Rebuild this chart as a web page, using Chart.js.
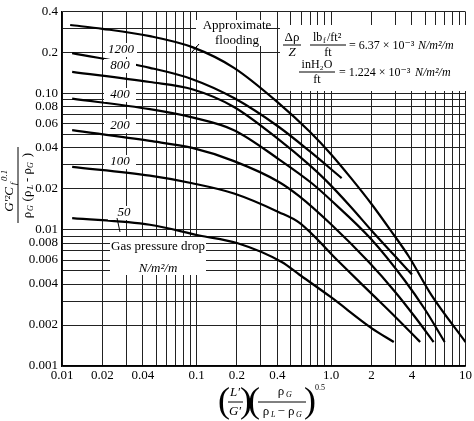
<!DOCTYPE html>
<html><head><meta charset="utf-8">
<script src="https://cdn.jsdelivr.net/npm/chart.js@4"></script>
<style>html,body{margin:0;padding:0;background:#fff}#w{width:474px;height:421px}</style>
</head><body><div id="w"><canvas id="c"></canvas></div>
<script>
const seriesNames = ['Flooding','1200','800','400','200','100','50'];
const floodX = [0.0115,0.02,0.045,0.093,0.19,0.41,0.69,1.0,1.41,2,2.8,3.78,5.6,10];
const floodY = [0.32,0.30,0.265,0.22,0.155,0.085,0.053,0.036,0.024,0.0155,0.0098,0.0064,0.0033,0.0015];
const s1200X = [0.0119,0.045,0.093,0.19,0.41,0.69,1.2];
const s1200Y = [0.199,0.155,0.128,0.093,0.057,0.038,0.024];
const s800X = [0.0119,0.045,0.093,0.19,0.41,0.69,0.92,1.4,2,3,4];
const s800Y = [0.145,0.122,0.108,0.08,0.046,0.030,0.023,0.0148,0.0099,0.0064,0.0047];
const s400X = [0.0119,0.045,0.093,0.19,0.41,0.72,1,2,3.5,5,7];
const s400Y = [0.092,0.077,0.067,0.054,0.033,0.022,0.0165,0.0085,0.0043,0.0026,0.0015];
const s200X = [0.0119,0.045,0.093,0.19,0.41,0.58,1,1.91,3,4.2,5.8];
const s200Y = [0.054,0.045,0.04,0.032,0.0225,0.0177,0.011,0.0058,0.0035,0.0023,0.0015];
const s100X = [0.0119,0.045,0.093,0.19,0.41,0.58,1.15,2,3,4.6];
const s100Y = [0.029,0.025,0.022,0.0185,0.0135,0.0113,0.0058,0.0034,0.0023,0.0015];
const s50X = [0.0119,0.045,0.105,0.2,0.43,0.58,1,2,2.93];
const s50Y = [0.0122,0.0109,0.0091,0.0080,0.0058,0.0047,0.0032,0.0019,0.0015];
const xTickLabels = ['0.01','0.02','0.04','0.1','0.2','0.4','1.0','2','4','10'];
const yTickLabels = ['0.001','0.002','0.004','0.006','0.008','0.01','0.02','0.04','0.06','0.08','0.10','0.2','0.4'];

const allX=[floodX,s1200X,s800X,s400X,s200X,s100X,s50X];
const allY=[floodY,s1200Y,s800Y,s400Y,s200Y,s100Y,s50Y];
function grid(min,max){const t=[];for(let e=-3;e<=1;e++)for(let m=1;m<=9;m++){const v=+(m*Math.pow(10,e)).toPrecision(3);if(v>=min*0.999&&v<=max*1.001)t.push(v);}return t;}
function lab(list,v){for(const s of list){if(Math.abs(parseFloat(s)-v)/v<1e-6)return s;}return '';}
const SERIF="'Liberation Serif', 'DejaVu Serif', serif";

const datasets=seriesNames.map((n,i)=>({label:n,data:allX[i].map((x,j)=>({x,y:allY[i][j]})),borderColor:'#000',borderWidth:2.2,pointRadius:0,fill:false,cubicInterpolationMode:'monotone'}));

function box(ctx,x,y,w,h){ctx.fillStyle='#fff';ctx.fillRect(x,y,w,h);}
function txt(ctx,s,x,y,font,align){ctx.font=font;ctx.textAlign=align||'center';ctx.textBaseline='middle';ctx.fillStyle='#000';ctx.fillText(s,x,y);}

const deco={id:'deco',
beforeDatasetsDraw(ch){const c=ch.ctx;c.save();
 box(c,280,25,186,66);
 box(c,110,237,96,38);
 box(c,196,20,70,26);
 c.restore();},
afterDatasetsDraw(ch){const c=ch.ctx;c.save();
 const f13=`13px ${SERIF}`, fi=`italic 13px ${SERIF}`, f12=`12px ${SERIF}`, fi12=`italic 12px ${SERIF}`;
 [['1200',121,50],['800',120,66],['400',120,95],['200',120,126],['100',120,162],['50',124,213]].forEach(([s,x,y])=>{box(c,x-16,y-7,32,14);txt(c,s,x,y,fi);});
 txt(c,'Approximate',237,26,f13);txt(c,'flooding',237,41,f13);
 c.strokeStyle='#000';c.lineWidth=1;c.beginPath();c.moveTo(199,44);c.lineTo(192,52);c.stroke();
 c.beginPath();c.moveTo(117,218);c.lineTo(120,232);c.stroke();
 txt(c,'Gas pressure drop',158,247,f13);
 txt(c,'N/m²/m',158,269,fi);
 txt(c,'Δρ',292,38,f13);c.beginPath();c.moveTo(283,45);c.lineTo(301,45);c.stroke();txt(c,'Z',292,53,fi);
 txt(c,'lb',313,38,f12,'left');c.font=`8px ${SERIF}`;c.textAlign='left';c.fillText('f',323,41);txt(c,'/ft²',327,38,f12,'left');
 c.beginPath();c.moveTo(310,45);c.lineTo(346,45);c.stroke();txt(c,'ft',328,53,f12);
 txt(c,'= 6.37 × 10⁻³',349,46,f12,'left');txt(c,'N/m²/m',418,46,fi12,'left');
 txt(c,'inH₂O',317,65,f12);c.beginPath();c.moveTo(299,72);c.lineTo(335,72);c.stroke();txt(c,'ft',317,80,f12);
 txt(c,'= 1.224 × 10⁻³',339,73,f12,'left');txt(c,'N/m²/m',415,73,fi12,'left');
 c.save();c.translate(18,185);c.rotate(-Math.PI/2);
 txt(c,'G′²C',-2,-8,fi,'right');c.font=`italic 9px ${SERIF}`;c.textAlign='left';c.fillText('f',0,-4);c.fillText('0.1',4,-13);
 c.beginPath();c.moveTo(-38,0);c.lineTo(38,0);c.stroke();
 txt(c,'ρ',-30,10,f13);c.font=`italic 8px ${SERIF}`;c.fillText('G',-23,13);txt(c,'(ρ',-11,10,f13);c.font=`italic 8px ${SERIF}`;c.fillText('L',-2,13);txt(c,'- ρ',10,10,f13);c.font=`italic 8px ${SERIF}`;c.fillText('G',20,13);txt(c,')',30,10,f13);
 c.restore();
 const by=403;
 txt(c,'(',224,by,`36px ${SERIF}`);txt(c,')',246,by,`36px ${SERIF}`);
 txt(c,'L′',235,393,fi);c.beginPath();c.moveTo(228,402);c.lineTo(243,402);c.stroke();txt(c,'G′',235,412,fi);
 txt(c,'(',254,by,`36px ${SERIF}`);txt(c,')',310,by,`36px ${SERIF}`);
 txt(c,'ρ',281,392,f13);c.font=`italic 8px ${SERIF}`;c.textAlign='left';c.fillText('G',286,395);
 c.beginPath();c.moveTo(258,402);c.lineTo(306,402);c.stroke();
 txt(c,'ρ',266,412,f13);c.font=`italic 8px ${SERIF}`;c.textAlign='left';c.fillText('L',271,415);txt(c,'− ρ',286,412,f13);c.font=`italic 8px ${SERIF}`;c.textAlign='left';c.fillText('G',296,415);
 txt(c,'0.5',315,388,`8px ${SERIF}`,'left');
 c.restore();}};

new Chart(document.getElementById('c'),{type:'line',data:{datasets},
options:{responsive:true,maintainAspectRatio:false,animation:false,
 layout:{padding:{left:0,top:6,right:8,bottom:0}},
 plugins:{legend:{display:false},tooltip:{enabled:false}},
 scales:{
  x:{type:'logarithmic',min:0.01,max:10,
   afterBuildTicks(s){s.ticks=grid(0.01,10).map(v=>({value:v}));},
   afterFit(s){s.height=55;},
   ticks:{autoSkip:false,maxRotation:0,padding:2,color:'#000',font:{family:SERIF,size:13},callback:(v)=>lab(xTickLabels,v)},
   grid:{color:'#222',lineWidth:1,drawTicks:false},border:{color:'#000',width:1.5}},
  y:{type:'logarithmic',min:0.001,max:0.4,
   afterBuildTicks(s){s.ticks=grid(0.001,0.4).concat([0.4]).filter((v,i,a)=>a.indexOf(v)===i).map(v=>({value:v}));},
   afterFit(s){s.width=62;},
   ticks:{autoSkip:false,padding:4,color:'#000',font:{family:SERIF,size:13},callback:(v)=>lab(yTickLabels,v)},
   grid:{color:'#222',lineWidth:1,drawTicks:false},border:{color:'#000',width:1.5}}}},
 plugins:[deco]});
</script></body></html>
